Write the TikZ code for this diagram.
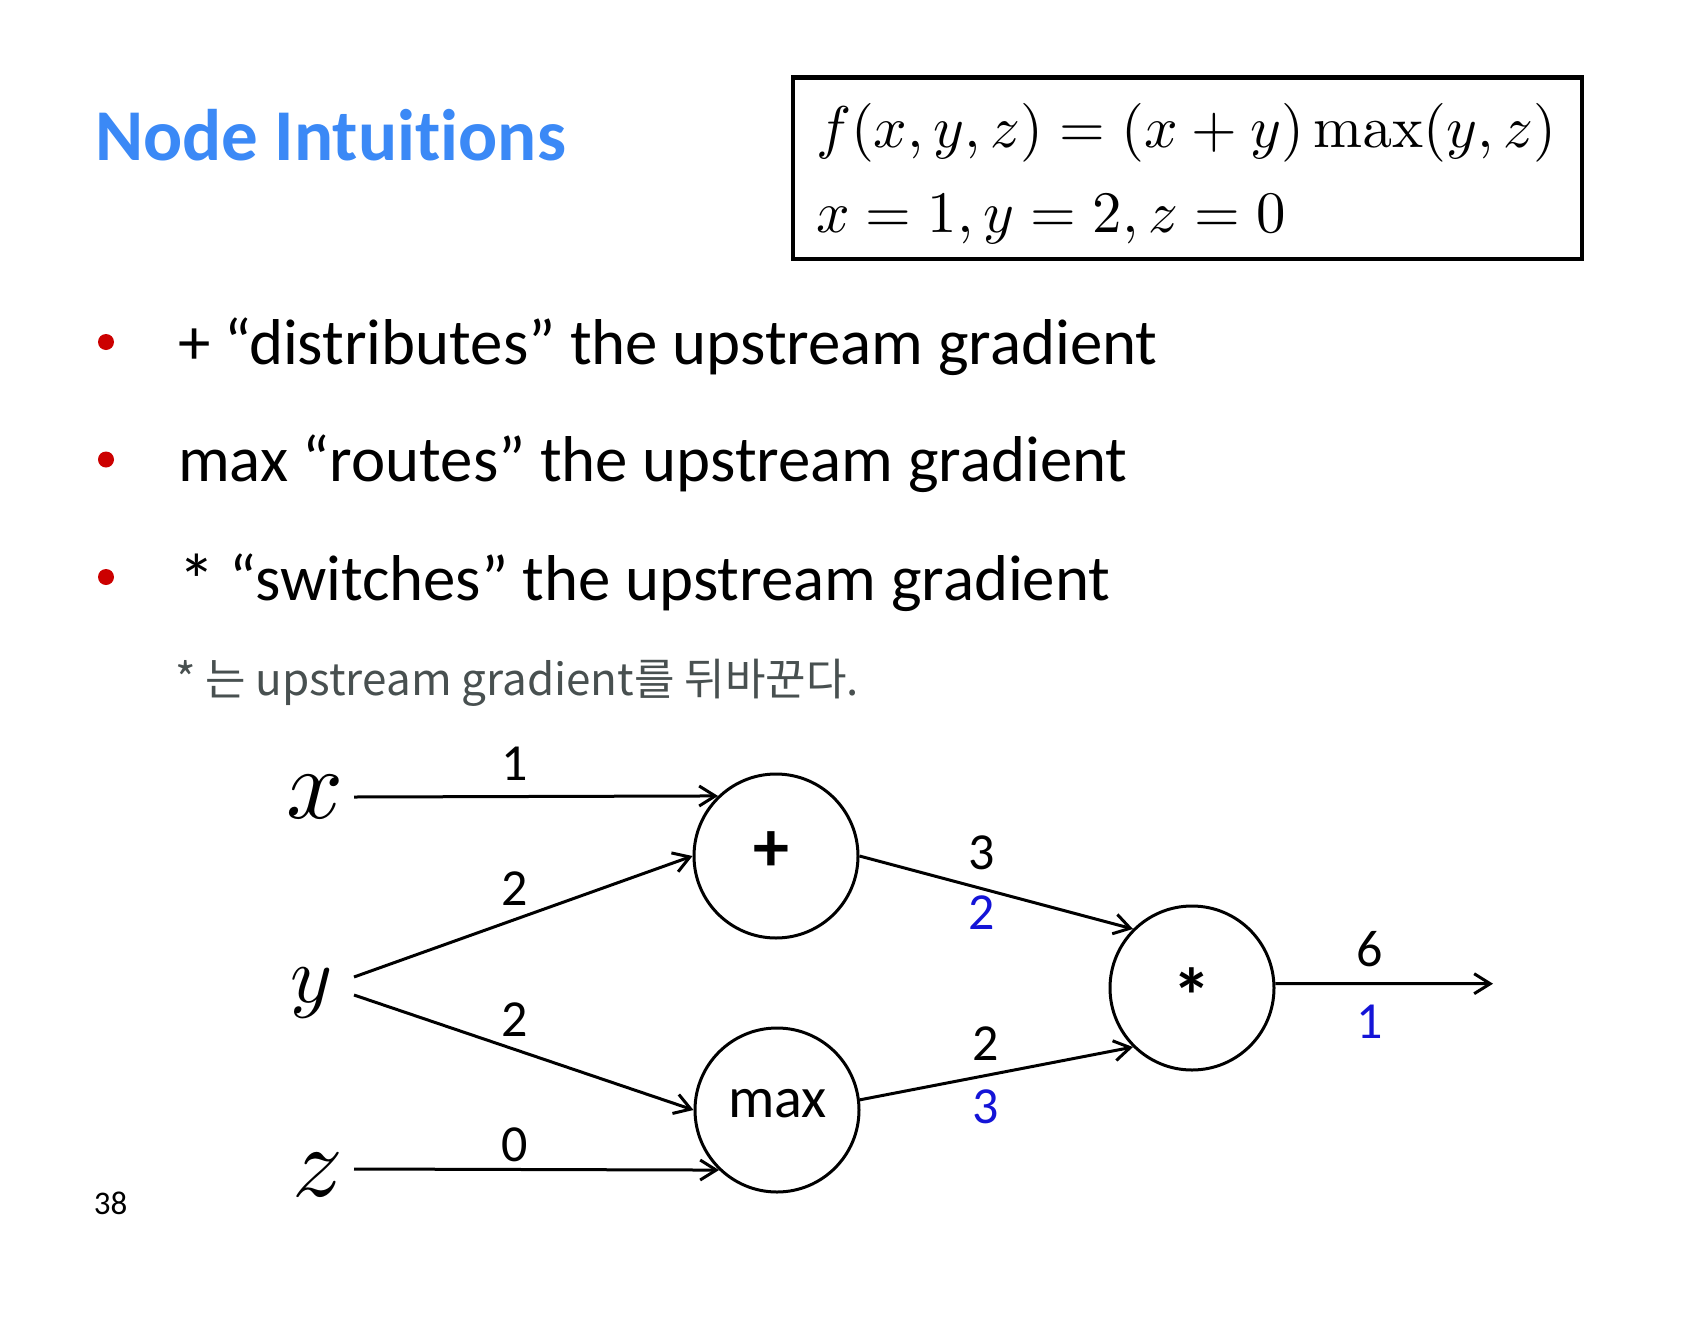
\documentclass[tikz,border=0pt]{standalone}
\usepackage{graphicx}
\usepackage[no-math]{fontspec}
\setmainfont{Carlito}[Ligatures=NoCommon]
\newfontfamily\krfont{Noto Sans CJK KR}
\usetikzlibrary{arrows.meta}
\definecolor{titleblue}{RGB}{59,137,246}
\definecolor{bulletred}{RGB}{204,0,0}
\definecolor{gradblue}{RGB}{20,20,215}
\definecolor{handgray}{RGB}{72,80,80}
\begin{document}
\begin{tikzpicture}[x=1pt,y=-1pt,
  every node/.style={inner sep=0pt, outer sep=0pt},
  opnode/.style={circle, draw, line width=3pt, minimum size=164pt, inner sep=0pt, outer sep=1.5pt},
  conn/.style={line width=3pt, -{Straight Barb[length=16pt,width=20pt,line width=3pt]}},
  lbl/.style={font=\fontsize{52}{60}\selectfont},
  glbl/.style={lbl, text=gradblue},
  var/.style={anchor=base},
  bullettext/.style={font=\fontsize{64.8}{78}\selectfont, anchor=base west},
  dotstyle/.style={circle, fill=bulletred, minimum size=16pt}
]
\useasboundingbox (0,0) rectangle (1700,1317);
\fill[white] (0,0) rectangle (1700,1317);

% title
\node[anchor=base west, font=\fontsize{73}{80}\selectfont\bfseries, text=titleblue] (title) at (95,160) {Node Intuitions};

% formula box
\node[draw, line width=4.5pt, minimum width=789pt, minimum height=181.5pt, anchor=north west] (fbox) at (792.75,77.25) {};
\node[anchor=base west] (f1) at (816,147) {\scalebox{5.88}{$f(x,y,z)=(x+y)\max(y,z)$}};
\node[anchor=base west] (f2) at (816,232) {\scalebox{5.88}{$x=1,y=2,z=0$}};

% bullets
\node[dotstyle] (d1) at (106,342) {};
\node[dotstyle] (d2) at (106,459.5) {};
\node[dotstyle] (d3) at (106,577) {};
\node[bullettext] (b1) at (178,364) {+ “distributes” the upstream gradient};
\node[bullettext] (b2) at (178,481) {max “routes” the upstream gradient};
\node[bullettext] (b3) at (178,600) {\raisebox{-6pt}{\fontsize{74}{78}\selectfont *} “switches” the upstream gradient};

% handwritten note
\node[anchor=west, font=\krfont\fontsize{44}{52}\selectfont, text=handgray] (note) at (175,683) {* 는 upstream gradient를 뒤바꾼다.};

% graph nodes
\node[opnode] (plus) at (776,856) {};
\node[font=\fontsize{72}{80}\selectfont\bfseries] (plusl) at (771,852) {+};
\node[opnode] (max) at (777,1110) {};
\node[font=\fontsize{58}{66}\selectfont] (maxl) at (777.4,1103.7) {max};
\node[opnode] (mul) at (1192,988) {};
\node[font=\fontsize{78}{86}\selectfont\bfseries, anchor=base] (mull) at (1191.5,1023) {*};

% inputs
\node[var] (vx) at (315,818) {\scalebox{10}{$x$}};
\node[var] (vy) at (312,1002) {\scalebox{8}{$y$}};
\node[var] (vz) at (318,1196) {\scalebox{10}{$z$}};

\coordinate (xs) at (354,797);
\coordinate (ys1) at (354,977);
\coordinate (ys2) at (354,995);
\coordinate (zs) at (354,1169);
\coordinate (out) at (1493,983.7);

% connectors
\draw[conn] (xs) -- (plus.134);
\draw[conn] (ys1) -- (plus.west);
\draw[conn] (ys2) -- (max.west);
\draw[conn] (zs) -- (max.226);
\draw[conn] (plus.east) -- (mul.135);
\draw[conn] (max.7) -- (mul.225);
\draw[conn] (mul.3) -- (out);

% edge values
\node[lbl] (l1) at (515,764) {1};
\node[lbl] (l2) at (515,889) {2};
\node[lbl] (l3) at (515,1020) {2};
\node[lbl] (l4) at (515,1145) {0};
\node[lbl] (l5) at (982,853) {3};
\node[glbl] (g5) at (982,913) {2};
\node[lbl] (l6) at (985.5,1044) {2};
\node[glbl] (g6) at (985.5,1107) {3};
\node[lbl] (l7) at (1370,949) {6};
\node[glbl] (g7) at (1370,1022) {1};

% page number
\node[font=\fontsize{33}{40}\selectfont] (pg) at (110.6,1203.5) {38};
\end{tikzpicture}
\end{document}
